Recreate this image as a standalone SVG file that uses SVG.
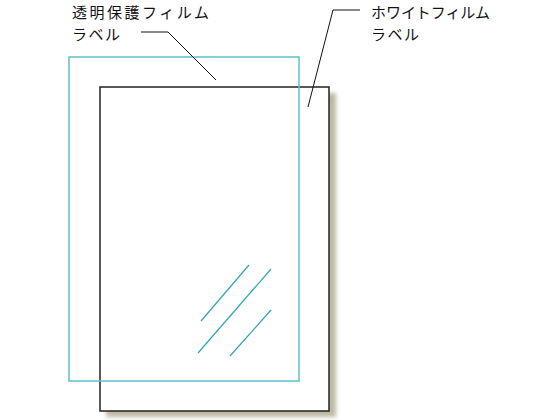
<svg xmlns="http://www.w3.org/2000/svg" width="560" height="420" viewBox="0 0 560 420">
<style>
.lbl{font-family:"Noto Sans CJK JP","Liberation Sans",sans-serif;font-size:15px;fill:#111}
.lead{stroke:#111;stroke-width:1;fill:none}
.glare{stroke:#2aa6b6;stroke-width:1.2;fill:none}
</style>
<defs>
<filter id="sh" x="-10%" y="-10%" width="120%" height="120%">
<feGaussianBlur stdDeviation="2"/>
</filter>
</defs>
<rect width="560" height="420" fill="#fff"/>
<g id="white-film">
<rect x="106" y="93" width="230" height="324" fill="#bdb9a3" filter="url(#sh)"/>
<rect x="100" y="87" width="229" height="324" fill="#fff" stroke="#222" stroke-width="1.5"/>
<line class="glare" x1="201" y1="321" x2="249" y2="265"/>
<line class="glare" x1="198" y1="353" x2="271" y2="269"/>
<line class="glare" x1="230" y1="356" x2="271" y2="310"/>
</g>
<g id="clear-film">
<rect x="69" y="57" width="230" height="324" fill="none" stroke="#5cc0cc" stroke-width="1.5"/>
</g>
<g id="connectors">
<polyline class="lead" points="141,32 168,32 216,80"/>
<polyline class="lead" points="360,10 333,10 308,107"/>
</g>
<g id="label-clear">
<text class="lbl" x="72" y="17.8" textLength="137" lengthAdjust="spacing">透明保護フィルム</text>
<text class="lbl" x="72" y="39.6" textLength="48" lengthAdjust="spacing">ラベル</text>
</g>
<g id="label-white">
<text class="lbl" x="371" y="17.8" textLength="119" lengthAdjust="spacing">ホワイトフィルム</text>
<text class="lbl" x="371" y="39.6" textLength="48" lengthAdjust="spacing">ラベル</text>
</g>
</svg>
